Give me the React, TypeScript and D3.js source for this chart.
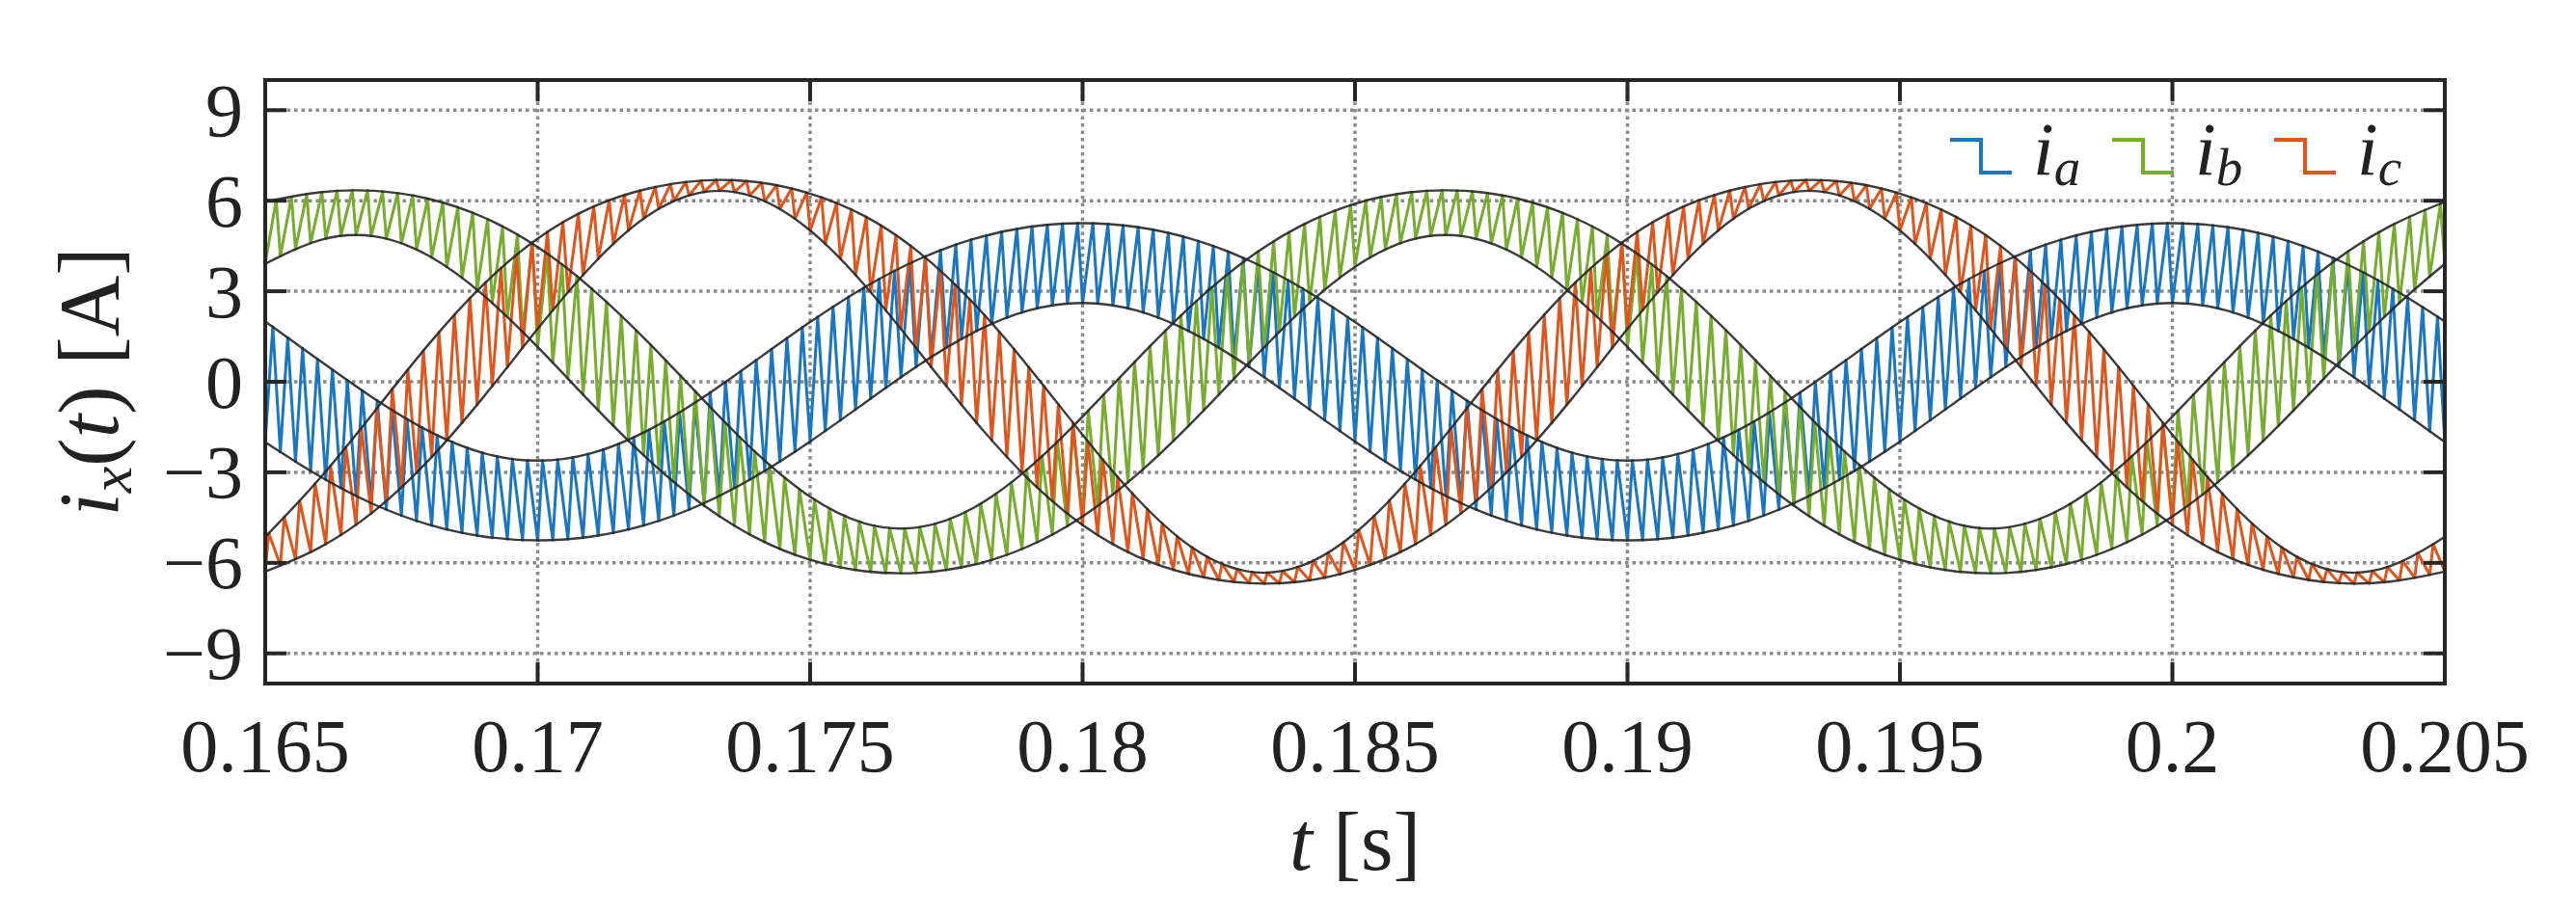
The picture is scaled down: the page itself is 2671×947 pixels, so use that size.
import React from "react";
import * as d3 from "d3";

const width = 2671;
const height = 947;
const plot = { left: 275, right: 2535, top: 83, bottom: 709 };

// time axis, sampled every 1 ms
const tStart = 0.165;
const tEnd = 0.205;
const sampleTimes = d3.range(41).map((i) => +(tStart + i * 0.001).toFixed(3));

// switching frequency of the ripple (read from the zig-zag spacing)
const carrierHz = 3600;

// envelope curves (A)
const blueUpper = [
  2.0, 0.7, -0.59, -1.69, -2.44, -2.7, -2.44, -1.69, -0.59, 0.7,
  2.0, 3.17, 4.11, 4.78, 5.17, 5.3, 5.17, 4.78, 4.11, 3.17,
  2.0, 0.7, -0.59, -1.69, -2.44, -2.7, -2.44, -1.69, -0.59, 0.7,
  2.0, 3.17, 4.11, 4.78, 5.17, 5.3, 5.17, 4.78, 4.11, 3.17,
  2.0,
];
const blueLower = [
  -2.0, -3.17, -4.11, -4.78, -5.17, -5.3, -5.17, -4.78, -4.11, -3.17,
  -2.0, -0.7, 0.59, 1.69, 2.44, 2.7, 2.44, 1.69, 0.59, -0.7,
  -2.0, -3.17, -4.11, -4.78, -5.17, -5.3, -5.17, -4.78, -4.11, -3.17,
  -2.0, -0.7, 0.59, 1.69, 2.44, 2.7, 2.44, 1.69, 0.59, -0.7,
  -2.0,
];
const greenUpper = [
  5.96, 6.33, 6.38, 6.12, 5.52, 4.53, 3.13, 1.39, -0.53, -2.4,
  -3.91, -4.82, -4.95, -4.29, -2.95, -1.18, 0.76, 2.58, 4.1, 5.23,
  5.96, 6.33, 6.38, 6.12, 5.52, 4.53, 3.13, 1.39, -0.53, -2.4,
  -3.91, -4.82, -4.95, -4.29, -2.95, -1.18, 0.76, 2.58, 4.1, 5.23,
  5.96,
];
const greenLower = [
  3.91, 4.82, 4.95, 4.29, 2.95, 1.18, -0.76, -2.58, -4.1, -5.23,
  -5.96, -6.33, -6.38, -6.12, -5.52, -4.53, -3.13, -1.39, 0.53, 2.4,
  3.91, 4.82, 4.95, 4.29, 2.95, 1.18, -0.76, -2.58, -4.1, -5.23,
  -5.96, -6.33, -6.38, -6.12, -5.52, -4.53, -3.13, -1.39, 0.53, 2.4,
  3.91,
];
const redUpper = [
  -5.14, -3.27, -1.0, 1.29, 3.29, 4.83, 5.86, 6.44, 6.72, 6.68,
  6.29, 5.57, 4.37, 2.67, 0.55, -1.78, -3.95, -5.62, -6.44, -6.27,
  -5.14, -3.27, -1.0, 1.29, 3.29, 4.83, 5.86, 6.44, 6.72, 6.68,
  6.29, 5.57, 4.37, 2.67, 0.55, -1.78, -3.95, -5.62, -6.44, -6.27,
  -5.14,
];
const redLower = [
  -6.29, -5.57, -4.37, -2.67, -0.55, 1.78, 3.95, 5.62, 6.44, 6.27,
  5.14, 3.27, 1.0, -1.29, -3.29, -4.83, -5.86, -6.44, -6.72, -6.68,
  -6.29, -5.57, -4.37, -2.67, -0.55, 1.78, 3.95, 5.62, 6.44, 6.27,
  5.14, 3.27, 1.0, -1.29, -3.29, -4.83, -5.86, -6.44, -6.72, -6.68,
  -6.29,
];

const phases = [
  { name: "a", color: "#1876c2", upper: blueUpper, lower: blueLower },
  { name: "b", color: "#76ad2e", upper: greenUpper, lower: greenLower },
  { name: "c", color: "#e0551c", upper: redUpper, lower: redLower },
];

const xTicks = [0.165, 0.17, 0.175, 0.18, 0.185, 0.19, 0.195, 0.2, 0.205];
const xTickLabels = ["0.165", "0.17", "0.175", "0.18", "0.185", "0.19", "0.195", "0.2", "0.205"];
const yTicks = [-9, -6, -3, 0, 3, 6, 9];

const ink = "#262626";
const font = "'Liberation Serif', 'DejaVu Serif', serif";

// ripple between the two envelopes, one rise and one fall per carrier period
function ripplePoints(upper: number[], lower: number[]) {
  const up = d3.interpolateBasis(upper);
  const lo = d3.interpolateBasis(lower);
  const f = (t: number) => Math.max(0, Math.min(1, (t - tStart) / (tEnd - tStart)));
  const n = Math.round((tEnd - tStart) * carrierHz);
  const pts: [number, number][] = [];
  for (let k = 0; k <= n; k++) {
    const t0 = tStart + k / carrierHz;
    const mid = (up(f(t0)) + lo(f(t0))) / 2;
    const duty = 0.5 + (0.3 * mid) / 6.6;
    pts.push([t0, lo(f(t0))]);
    const t1 = t0 + duty / carrierHz;
    pts.push([t1, up(f(t1))]);
  }
  return pts;
}

export default function App() {
  const x = d3.scaleLinear().domain([tStart, tEnd]).range([plot.left, plot.right]);
  const y = d3.scaleLinear().domain([-10, 10]).range([plot.bottom, plot.top]);

  const zig = d3
    .line<[number, number]>()
    .x((d) => x(d[0]))
    .y((d) => y(d[1]));
  const env = d3
    .line<number>()
    .x((_, i) => x(sampleTimes[i]))
    .y((d) => y(d))
    .curve(d3.curveBasis);

  const tickLen = 22;

  return (
    <svg
      width={width}
      height={height}
      style={{ position: "absolute", left: 0, top: 0, background: "#fff" }}
      fontFamily={font}
    >
      <defs>
        <clipPath id="plotClip">
          <rect x={plot.left} y={plot.top} width={plot.right - plot.left} height={plot.bottom - plot.top} />
        </clipPath>
      </defs>
      <rect x={0} y={0} width={width} height={height} fill="#fff" />

      {/* grid */}
      <g stroke="#8a8a8a" strokeWidth={3.5} strokeDasharray="3.5 4">
        {yTicks.map((v) => (
          <line key={"gy" + v} x1={plot.left} x2={plot.right} y1={y(v)} y2={y(v)} />
        ))}
        {xTicks.slice(1, -1).map((v) => (
          <line key={"gx" + v} x1={x(v)} x2={x(v)} y1={plot.top} y2={plot.bottom} />
        ))}
      </g>

      {/* ripple currents */}
      <g clipPath="url(#plotClip)" fill="none">
        {phases.map((p) => (
          <path
            key={"z" + p.name}
            d={zig(ripplePoints(p.upper, p.lower)) || ""}
            stroke={p.color}
            strokeWidth={3}
            strokeLinejoin="round"
          />
        ))}
        {phases.map((p) => (
          <g key={"e" + p.name} stroke="#262626" strokeWidth={2.4} strokeOpacity={0.9}>
            <path d={env(p.upper) || ""} />
            <path d={env(p.lower) || ""} />
          </g>
        ))}
      </g>

      {/* frame and ticks */}
      <g stroke={ink} strokeWidth={4} fill="none">
        <rect x={plot.left} y={plot.top} width={plot.right - plot.left} height={plot.bottom - plot.top} />
        {yTicks.map((v) => (
          <g key={"ty" + v}>
            <line x1={plot.left} x2={plot.left + tickLen} y1={y(v)} y2={y(v)} />
            <line x1={plot.right} x2={plot.right - tickLen} y1={y(v)} y2={y(v)} />
          </g>
        ))}
        {xTicks.map((v) => (
          <g key={"tx" + v}>
            <line x1={x(v)} x2={x(v)} y1={plot.bottom} y2={plot.bottom - tickLen} />
            <line x1={x(v)} x2={x(v)} y1={plot.top} y2={plot.top + tickLen} />
          </g>
        ))}
      </g>

      {/* tick labels */}
      <g fill="#222" fontSize={78}>
        {yTicks.map((v) => (
          <text key={"ly" + v} x={252} y={y(v)} dy="0.34em" textAnchor="end">
            {v < 0 ? `\u2212${-v}` : `${v}`}
          </text>
        ))}
        {xTicks.map((v, i) => (
          <text key={"lx" + v} x={x(v)} y={800} textAnchor="middle">
            {xTickLabels[i]}
          </text>
        ))}
      </g>

      {/* axis labels */}
      <text x={(plot.left + plot.right) / 2} y={902} textAnchor="middle" fontSize={86} fill="#222">
        <tspan fontStyle="italic">t</tspan>
        <tspan> [s]</tspan>
      </text>
      <text
        transform={`translate(122, ${(plot.top + plot.bottom) / 2}) rotate(-90)`}
        textAnchor="middle"
        fontSize={88}
        fill="#222"
      >
        <tspan fontStyle="italic">i</tspan>
        <tspan fontStyle="italic" fontSize={62} dy={14}>x</tspan>
        <tspan dy={-14}>(</tspan>
        <tspan fontStyle="italic">t</tspan>
        <tspan>) [A]</tspan>
      </text>

      {/* legend */}
      <g>
        {phases.map((p, i) => {
          const x0 = 2022 + i * 168;
          return (
            <g key={"lg" + p.name}>
              <path
                d={`M${x0},145 H${x0 + 32} V179 H${x0 + 64}`}
                fill="none"
                stroke={p.color}
                strokeWidth={4}
              />
              <text x={x0 + 86} y={181} fontSize={78} fill="#222" fontStyle="italic">
                <tspan>i</tspan>
                <tspan fontSize={55} dy={11}>{p.name}</tspan>
              </text>
            </g>
          );
        })}
      </g>
    </svg>
  );
}
